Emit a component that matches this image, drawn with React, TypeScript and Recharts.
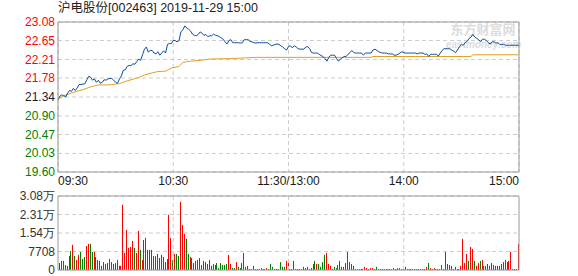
import React from "react";
import {
  LineChart,
  Line,
  BarChart,
  Bar,
  Cell,
  XAxis,
  YAxis,
  CartesianGrid,
  ReferenceLine,
} from "recharts";

// minute-by-minute price, 09:30 .. 11:30 / 13:00 .. 15:00 (241 points)
const prices = [
  21.28, 21.36, 21.39, 21.37, 21.34, 21.43, 21.49, 21.47, 21.54, 21.49,
  21.55, 21.63, 21.63, 21.64, 21.65, 21.74, 21.82, 21.8, 21.73, 21.76,
  21.68, 21.73, 21.66, 21.68, 21.74, 21.73, 21.76, 21.77, 21.77, 21.73,
  21.68, 21.66, 21.76, 21.83, 21.96, 21.97, 22.05, 22.07, 22.07, 22.11,
  22.1, 22.16, 22.22, 22.19, 22.32, 22.45, 22.5, 22.38, 22.42, 22.42,
  22.36, 22.34, 22.39, 22.31, 22.36, 22.41, 22.36, 22.56, 22.58, 22.58,
  22.65, 22.65, 22.62, 22.65, 22.85, 22.9, 22.99, 22.94, 22.91, 22.87,
  22.8, 22.77, 22.76, 22.79, 22.85, 22.82, 22.77, 22.79, 22.74, 22.76,
  22.76, 22.8, 22.77, 22.76, 22.74, 22.71, 22.68, 22.62, 22.57, 22.65,
  22.67, 22.6, 22.6, 22.6, 22.6, 22.59, 22.6, 22.67, 22.67, 22.67,
  22.63, 22.62, 22.6, 22.59, 22.6, 22.6, 22.6, 22.6, 22.6, 22.6,
  22.57, 22.53, 22.54, 22.56, 22.57, 22.56, 22.53, 22.5, 22.46, 22.43,
  22.51, 22.53, 22.48, 22.53, 22.5, 22.46, 22.45, 22.45, 22.45, 22.5,
  22.51, 22.46, 22.37, 22.36, 22.36, 22.36, 22.33, 22.3, 22.28, 22.23,
  22.17, 22.26, 22.31, 22.31, 22.31, 22.23, 22.17, 22.22, 22.25, 22.28,
  22.28, 22.33, 22.37, 22.42, 22.37, 22.36, 22.36, 22.36, 22.36, 22.31,
  22.36, 22.36, 22.36, 22.36, 22.43, 22.45, 22.42, 22.39, 22.37, 22.36,
  22.36, 22.36, 22.34, 22.34, 22.34, 22.31, 22.31, 22.33, 22.36, 22.39,
  22.37, 22.36, 22.36, 22.36, 22.36, 22.36, 22.36, 22.34, 22.36, 22.36,
  22.36, 22.33, 22.34, 22.28, 22.33, 22.33, 22.33, 22.33, 22.29, 22.36,
  22.42, 22.46, 22.46, 22.46, 22.46, 22.43, 22.4, 22.37, 22.43, 22.51,
  22.56, 22.54, 22.6, 22.63, 22.7, 22.73, 22.79, 22.73, 22.7, 22.67,
  22.62, 22.68, 22.68, 22.65, 22.6, 22.57, 22.62, 22.62, 22.59, 22.6,
  22.56, 22.56, 22.56, 22.54, 22.54, 22.54, 22.54, 22.54, 22.54, 22.54,
  22.54,
];

// average price line, read at the minutes where it changes
const avgMinutes = [
  0, 2, 4, 7, 11, 13, 16, 19, 21, 26, 28, 32, 35, 38, 42, 45, 49, 52, 56, 59,
  63, 65, 67, 69, 74, 79, 89, 104, 120, 163, 164, 215, 216, 240,
];
const avgValues = [
  21.29, 21.34, 21.39, 21.43, 21.49, 21.51, 21.56, 21.6, 21.62, 21.62, 21.63,
  21.65, 21.7, 21.74, 21.79, 21.85, 21.9, 21.93, 21.94, 22.01, 22.05, 22.14,
  22.16, 22.17, 22.19, 22.22, 22.23, 22.26, 22.26, 22.26, 22.28, 22.28, 22.32,
  22.32,
];

// volume per minute (shares) and direction (1 = up/red, 0 = down/green)
const volumes = [
  0, 2900, 3800, 3800, 2100, 1700, 5800, 7900, 10500, 5800,
  4200, 6300, 7500, 4600, 5400, 10000, 10900, 10900, 7500, 7500,
  5400, 4200, 3800, 1700, 3300, 2500, 2900, 4600, 3300, 2500,
  2900, 4200, 1700, 1700, 27200, 7100, 16700, 9200, 9600, 12100,
  9200, 7100, 16300, 8400, 4200, 12500, 13400, 8400, 8400, 8400,
  5800, 5800, 6700, 5000, 6300, 5400, 3300, 4600, 23000, 13400,
  4200, 6700, 6700, 5800, 28400, 18800, 15000, 13000, 6700, 5400,
  5000, 2900, 3800, 4200, 5000, 2100, 3800, 3300, 2500, 4200,
  1700, 2500, 2100, 2900, 800, 2900, 2100, 2100, 2500, 6300,
  2500, 800, 800, 3300, 1300, 800, 2900, 7100, 1300, 1700,
  400, 400, 1700, 400, 400, 400, 800, 400, 400, 800,
  400, 2500, 1300, 400, 400, 400, 3300, 1300, 1300, 3800,
  4600, 400, 400, 3800, 400, 400, 400, 400, 1300, 800,
  1300, 400, 800, 2500, 3800, 2500, 2500, 1300, 3300, 6300,
  7100, 2500, 1700, 400, 1300, 800, 2100, 3800, 1300, 1300,
  2900, 7500, 3300, 2500, 1700, 400, 400, 400, 400, 400,
  1300, 800, 400, 800, 800, 400, 1300, 400, 400, 400,
  400, 400, 400, 400, 400, 800, 400, 800, 800, 400,
  400, 1300, 400, 400, 400, 400, 400, 400, 400, 400,
  400, 400, 1300, 2900, 800, 400, 800, 400, 400, 400,
  2100, 400, 7500, 2500, 2100, 1700, 400, 1300, 400, 400,
  1700, 13000, 2900, 6700, 3800, 9600, 8800, 3800, 1700, 2900,
  3800, 4200, 1700, 1700, 2500, 1700, 2900, 2100, 1700, 1700,
  1700, 2500, 3300, 4200, 3300, 3800, 7500, 400, 400, 400,
  10900,
];
const volumeUp = [
  1, 1, 1, 1, 0, 1, 1, 0, 1, 0,
  1, 1, 0, 0, 0, 1, 1, 0, 0, 1,
  0, 1, 1, 0, 0, 1, 1, 1, 1, 0,
  0, 0, 1, 1, 1, 1, 1, 1, 1, 1,
  0, 1, 1, 0, 1, 1, 1, 0, 0, 0,
  1, 1, 0, 1, 1, 1, 0, 0, 1, 1,
  0, 1, 0, 0, 1, 1, 1, 0, 0, 1,
  0, 0, 0, 1, 1, 0, 0, 0, 0, 1,
  1, 1, 0, 0, 0, 0, 0, 0, 0, 1,
  1, 0, 0, 1, 0, 0, 1, 1, 0, 1,
  0, 0, 0, 0, 0, 0, 1, 0, 0, 1,
  0, 0, 0, 1, 1, 0, 0, 0, 0, 1,
  1, 0, 0, 1, 0, 0, 0, 0, 1, 1,
  1, 1, 0, 0, 0, 1, 0, 0, 0, 0,
  1, 1, 1, 1, 0, 0, 0, 1, 1, 1,
  0, 1, 1, 1, 0, 1, 1, 1, 0, 0,
  1, 1, 0, 1, 1, 1, 0, 0, 0, 0,
  0, 0, 0, 0, 1, 0, 0, 1, 1, 1,
  1, 0, 0, 1, 1, 0, 0, 0, 0, 0,
  0, 0, 1, 0, 1, 1, 1, 1, 0, 0,
  1, 1, 1, 1, 1, 1, 0, 0, 0, 0,
  1, 1, 1, 1, 0, 1, 1, 0, 1, 1,
  0, 1, 0, 0, 1, 0, 1, 1, 0, 0,
  0, 0, 0, 0, 0, 1, 1, 1, 1, 1,
  1,
];

const prevClose = 21.34;
const priceTicks = [19.6, 20.03, 20.47, 20.9, 21.34, 21.78, 22.21, 22.65, 23.08];
const pctTicks = [-8.18, -6.13, -4.09, -2.04, 0, 2.04, 4.09, 6.13, 8.18];
const volTicks = [0, 7708, 15416, 23124, 30832];
const timeTicks = [0, 60, 120, 180, 240];
const timeLabels = ["09:30", "10:30", "11:30/13:00", "14:00", "15:00"];

const FONT = "Tahoma, 'Liberation Sans', Arial, sans-serif";
const RED = "#ff0000";
const GREEN = "#008000";
const BORDER = "#999999";
const GRID = "#cccccc";

const priceData = prices.map((p, i) => ({ t: i, price: p }));
const avgData = avgMinutes.map((m, i) => ({ t: m, avg: avgValues[i] }));
const volData = volumes.map((v, i) => ({ t: i, vol: v, up: volumeUp[i] }));

function PriceTick(props: any) {
  const { x, y, payload } = props;
  const v = payload.value;
  const fill =
    v > prevClose + 0.001 ? RED : v < prevClose - 0.001 ? GREEN : "#1a1a2a";
  return (
    <text x={x} y={y} dy={4} textAnchor="end" fill={fill} fontSize={12} fontFamily={FONT}>
      {v.toFixed(2)}
    </text>
  );
}

function PctTick(props: any) {
  const { x, y, payload } = props;
  const v = payload.value;
  const fill = v > 0.001 ? RED : v < -0.001 ? GREEN : "#1a1a2a";
  return (
    <text x={x} y={y} dy={4} textAnchor="start" fill={fill} fontSize={12} fontFamily={FONT}>
      {Math.abs(v).toFixed(2) + "%"}
    </text>
  );
}

function TimeTick(props: any) {
  const { x, y, payload } = props;
  const i = timeTicks.indexOf(payload.value);
  const anchor = i === 0 ? "start" : i === timeTicks.length - 1 ? "end" : "middle";
  return (
    <text x={x} y={y} dy={13} textAnchor={anchor} fill="#1a1a1a" fontSize={12} fontFamily={FONT}>
      {timeLabels[i]}
    </text>
  );
}

function VolTick(props: any) {
  const { x, y, payload } = props;
  const v = payload.value;
  const label = v >= 10000 ? (v / 10000).toFixed(2) + "万" : String(v);
  return (
    <text x={x} y={y} dy={4} textAnchor="end" fill="#333333" fontSize={12} fontFamily={FONT}>
      {label}
    </text>
  );
}

export default function App() {
  return (
    <div
      style={{
        position: "absolute",
        left: 0,
        top: 0,
        width: 578,
        height: 276,
        background: "#fff",
        overflow: "hidden",
      }}
    >
      {/* title */}
      <div
        style={{
          position: "absolute",
          left: 58,
          top: 0,
          fontSize: 12.5,
          lineHeight: "16px",
          fontFamily: FONT + ", 'Noto Sans CJK SC'",
          color: "#222",
          whiteSpace: "nowrap",
        }}
      >
        沪电股份[002463] 2019-11-29 15:00
      </div>

      {/* watermark */}
      <div
        style={{
          position: "absolute",
          left: 446,
          top: 21,
          width: 74,
          textAlign: "center",
          color: "#dcdcdc",
          fontFamily: "'Noto Sans CJK SC', sans-serif",
          fontWeight: 700,
          fontSize: 13,
          lineHeight: "15px",
          whiteSpace: "nowrap",
        }}
      >
        东方财富网
      </div>
      <div
        style={{
          position: "absolute",
          left: 446,
          top: 40,
          width: 74,
          textAlign: "center",
          color: "#dcdcdc",
          fontFamily: FONT,
          fontWeight: 700,
          fontStyle: "italic",
          fontSize: 10,
          lineHeight: "9px",
          whiteSpace: "nowrap",
        }}
      >
        eastmoney.com
      </div>

      {/* price chart */}
      <div style={{ position: "absolute", left: 0, top: 0 }}>
        <LineChart width={578} height={195} margin={{ top: 22, right: 0, left: 0, bottom: 0 }}>
          <CartesianGrid
            yAxisId="price"
            stroke={GRID}
            strokeDasharray="4 3"
            horizontalValues={priceTicks}
            verticalValues={timeTicks}
          />
          <XAxis
            type="number"
            dataKey="t"
            domain={[0, 240]}
            ticks={timeTicks}
            interval={0}
            height={23}
            tickSize={0}
            tickMargin={0}
            axisLine={{ stroke: BORDER }}
            tickLine={false}
            tick={<TimeTick />}
            allowDuplicatedCategory={false}
          />
          <YAxis
            yAxisId="price"
            orientation="left"
            width={58}
            domain={[19.6, 23.08]}
            ticks={priceTicks}
            interval={0}
            tickSize={0}
            tickMargin={3}
            axisLine={{ stroke: BORDER }}
            tickLine={false}
            tick={<PriceTick />}
          />
          <YAxis
            yAxisId="pct"
            orientation="right"
            width={59}
            domain={[-8.18, 8.18]}
            ticks={pctTicks}
            interval={0}
            tickSize={0}
            tickMargin={5}
            axisLine={{ stroke: BORDER }}
            tickLine={false}
            tick={<PctTick />}
          />
          <ReferenceLine yAxisId="price" y={23.08} stroke={BORDER} />
          <Line
            yAxisId="price"
            data={avgData}
            dataKey="avg"
            type="linear"
            stroke="#e0a020"
            strokeWidth={1}
            dot={false}
            isAnimationActive={false}
          />
          <Line
            yAxisId="price"
            data={priceData}
            dataKey="price"
            type="linear"
            stroke="#0b4ea2"
            strokeWidth={1}
            dot={false}
            isAnimationActive={false}
          />
        </LineChart>
      </div>

      {/* volume chart */}
      <div style={{ position: "absolute", left: 0, top: 186 }}>
        <BarChart
          width={578}
          height={90}
          data={volData}
          margin={{ top: 10, right: 59, left: 0, bottom: 6 }}
          barCategoryGap={0}
        >
          <CartesianGrid stroke={GRID} strokeDasharray="4 3" vertical={false} />
          <XAxis type="number" dataKey="t" domain={[0, 240]} hide />
          <YAxis
            width={58}
            domain={[0, 30832]}
            ticks={volTicks}
            interval={0}
            tickSize={0}
            tickMargin={3}
            axisLine={false}
            tickLine={false}
            tick={<VolTick />}
          />
          {[60, 120, 180].map((m) => (
            <ReferenceLine key={m} x={m} stroke={GRID} strokeDasharray="4 3" />
          ))}
          <Bar
            dataKey="vol"
            barSize={1}
            isAnimationActive={false}
            shape={(p: any) => (
              <rect
                x={Math.round(p.x)}
                y={p.y}
                width={1}
                height={p.height}
                fill={p.fill}
              />
            )}
          >
            {volData.map((d) => (
              <Cell key={d.t} fill={d.up ? RED : GREEN} />
            ))}
          </Bar>
          <ReferenceLine x={0} stroke={BORDER} />
          <ReferenceLine x={240} stroke={BORDER} />
          <ReferenceLine y={0} stroke={BORDER} />
          <ReferenceLine y={30832} stroke={BORDER} />
        </BarChart>
      </div>
    </div>
  );
}
